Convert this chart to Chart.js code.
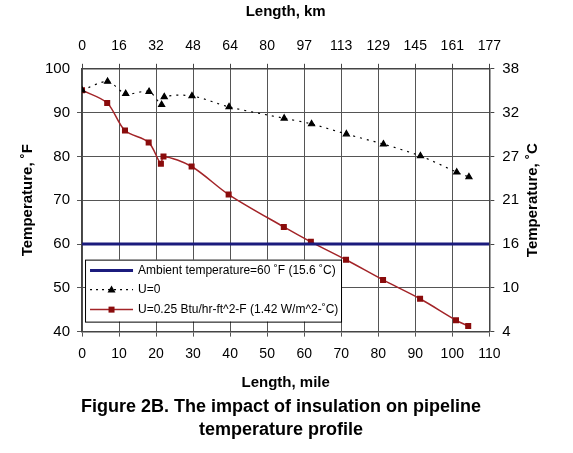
<!DOCTYPE html>
<html>
<head>
<meta charset="utf-8">
<script src="https://cdn.jsdelivr.net/npm/chart.js@4"></script>
<style>
    html, body { margin: 0; padding: 0; background: #fff; }
    #wrap { width: 573px; height: 453px; position: relative; }
</style>
</head>
<body>
<div id="wrap"><canvas id="tempChart"></canvas></div>
<script>
// 数据 (miles, °F)
const ambientMiles = [0, 110];
const ambientTemps = [60, 60];

const u0Miles = [0, 6.9, 11.8, 18.1, 21.5, 22.2, 29.7, 39.7, 54.6, 62.0, 71.4, 81.4, 91.4, 101.2, 104.5];
const u0Temps = [95.1, 97.1, 94.3, 94.8, 91.8, 93.6, 93.8, 91.3, 88.7, 87.4, 85.1, 82.8, 80.1, 76.4, 75.3];

const u25Miles = [0, 6.8, 11.6, 18.0, 21.3, 22.0, 29.6, 39.6, 54.5, 61.8, 71.3, 81.3, 91.3, 101.0, 104.3];
const u25Temps = [95.1, 92.2, 85.9, 83.2, 78.3, 80.0, 77.7, 71.3, 63.9, 60.5, 56.4, 51.8, 47.5, 42.6, 41.3];

// 副坐标轴刻度标签
const kmLabels = ['0', '16', '32', '48', '64', '80', '97', '113', '129', '145', '161', '177'];
const celsiusLabels = { 100: '38', 90: '32', 80: '27', 70: '21', 60: '16', 50: '10', 40: '4' };

const seriesNames = [
    'Ambient temperature=60 ˚F (15.6 ˚C)',
    'U=0',
    'U=0.25 Btu/hr-ft^2-F (1.42 W/m^2-˚C)'
];
const rightTitle = 'Temperature, ˚C';

function toPoints(xs, ys) {
    return xs.map((x, i) => ({ x: x, y: ys[i] }));
}

const FONT = 'Liberation Sans, Arial, sans-serif';
const AMBIENT_COLOR = '#1b1b7d';
const RED_LINE = '#a32428';
const RED_MARK = '#8a0c0c';

// 图表内的图例（Excel 风格方框）
const boxLegend = {
    id: 'boxLegend',
    beforeDatasetsDraw(chart) {
        const ctx = chart.ctx;
        const area = chart.chartArea;
        const left = area.left + 3;
        const top = area.bottom - 72;
        const w = 256, h = 62;
        ctx.save();
        ctx.fillStyle = '#fff';
        ctx.fillRect(left, top, w, h);
        ctx.strokeStyle = '#000';
        ctx.lineWidth = 1;
        ctx.strokeRect(left + 0.5, top + 0.5, w, h);

        ctx.font = '12px ' + FONT;
        ctx.fillStyle = '#000';
        ctx.textBaseline = 'middle';
        const x1 = left + 5, x2 = left + 48, tx = left + 53;
        const rows = [top + 11, top + 30, top + 50];

        // ambient
        ctx.strokeStyle = AMBIENT_COLOR;
        ctx.lineWidth = 3;
        ctx.beginPath(); ctx.moveTo(x1, rows[0]); ctx.lineTo(x2, rows[0]); ctx.stroke();
        ctx.fillText(seriesNames[0], tx, rows[0]);

        // U=0
        ctx.strokeStyle = '#000';
        ctx.lineWidth = 1.2;
        ctx.setLineDash([2, 4]);
        ctx.beginPath(); ctx.moveTo(x1, rows[1]); ctx.lineTo(x2, rows[1]); ctx.stroke();
        ctx.setLineDash([]);
        const mx = (x1 + x2) / 2;
        ctx.beginPath();
        ctx.moveTo(mx, rows[1] - 4); ctx.lineTo(mx + 4, rows[1] + 3); ctx.lineTo(mx - 4, rows[1] + 3);
        ctx.closePath(); ctx.fill();
        ctx.fillText(seriesNames[1], tx, rows[1]);

        // U=0.25
        ctx.strokeStyle = RED_LINE;
        ctx.lineWidth = 1.5;
        ctx.beginPath(); ctx.moveTo(x1, rows[2]); ctx.lineTo(x2, rows[2]); ctx.stroke();
        ctx.fillStyle = RED_MARK;
        ctx.fillRect(mx - 3, rows[2] - 3, 6, 6);
        ctx.fillStyle = '#000';
        ctx.fillText(seriesNames[2], tx, rows[2]);
        ctx.restore();
    }
};

// 右侧标题（自下而上方向，与左侧一致）
const rightAxisTitle = {
    id: 'rightAxisTitle',
    afterDraw(chart) {
        const ctx = chart.ctx;
        const area = chart.chartArea;
        ctx.save();
        ctx.translate(area.right + 44, (area.top + area.bottom) / 2);
        ctx.rotate(-Math.PI / 2);
        ctx.font = 'bold 15px ' + FONT;
        ctx.fillStyle = '#000';
        ctx.textAlign = 'center';
        ctx.textBaseline = 'middle';
        ctx.fillText(rightTitle, 0, 0);
        ctx.restore();
    }
};

const ctx = document.getElementById('tempChart');
new Chart(ctx.getContext('2d'), {
    type: 'line',
    data: {
        datasets: [
            {
                label: seriesNames[0],
                data: toPoints(ambientMiles, ambientTemps),
                borderColor: AMBIENT_COLOR,
                borderWidth: 3,
                pointRadius: 0,
                xAxisID: 'x',
                yAxisID: 'y'
            },
            {
                label: seriesNames[1],
                data: toPoints(u0Miles, u0Temps),
                borderColor: '#000',
                borderWidth: 1.2,
                borderDash: [2, 5],
                tension: 0.3,
                pointStyle: 'triangle',
                pointRadius: 3.5,
                pointBackgroundColor: '#000',
                pointBorderColor: '#000',
                xAxisID: 'x',
                yAxisID: 'y'
            },
            {
                label: seriesNames[2],
                data: toPoints(u25Miles, u25Temps),
                borderColor: RED_LINE,
                borderWidth: 1.5,
                tension: 0.3,
                pointStyle: 'rect',
                pointRadius: 3.2,
                pointBackgroundColor: RED_MARK,
                pointBorderColor: RED_MARK,
                xAxisID: 'x',
                yAxisID: 'y'
            }
        ]
    },
    options: {
        responsive: true,
        maintainAspectRatio: false,
        animation: false,
        layout: { padding: { left: 12, right: 23, top: 3, bottom: 11 } },
        plugins: {
            legend: { display: false },
            tooltip: { enabled: false },
            title: {
                display: true,
                position: 'bottom',
                text: ['Figure 2B. The impact of insulation on pipeline', 'temperature profile'],
                color: '#000',
                font: { family: FONT, size: 18, weight: 'bold', lineHeight: 1.28 },
                padding: { top: 2, bottom: 0 }
            }
        },
        scales: {
            x: {
                type: 'linear',
                position: 'bottom',
                min: 0, max: 110,
                ticks: { stepSize: 10, color: '#000', font: { family: FONT, size: 14 }, padding: 9 },
                grid: { color: '#555', lineWidth: 1, tickLength: 5 },
                border: { color: '#444', width: 1.5 },
                title: {
                    display: true, text: 'Length, mile', color: '#000',
                    font: { family: FONT, size: 15, weight: 'bold' }, padding: { top: 2, bottom: 2.5 }
                }
            },
            x2: {
                type: 'linear',
                position: 'top',
                min: 0, max: 110,
                ticks: {
                    stepSize: 10, color: '#000', font: { family: FONT, size: 14 }, padding: 9,
                    callback: function(value) { return kmLabels[Math.round(value / 10)]; }
                },
                grid: { drawOnChartArea: false, color: '#444', tickLength: 5 },
                border: { color: '#444', width: 1.5 },
                title: {
                    display: true, text: 'Length, km', color: '#000',
                    font: { family: FONT, size: 15, weight: 'bold' }, padding: { top: 0, bottom: 8 }
                }
            },
            y: {
                type: 'linear',
                position: 'left',
                min: 40, max: 100,
                ticks: { stepSize: 10, color: '#000', font: { family: FONT, size: 15 }, padding: 7 },
                grid: {
                    color: function(c) { return c.tick && c.tick.value === 100 ? 'rgba(0,0,0,0)' : '#555'; },
                    lineWidth: 1, tickLength: 5
                },
                border: { color: '#444', width: 1.5 },
                title: {
                    display: true, text: 'Temperature, ˚F', color: '#000',
                    font: { family: FONT, size: 15, weight: 'bold' }, padding: { top: 7, bottom: 1 }
                }
            },
            y2: {
                type: 'linear',
                position: 'right',
                min: 40, max: 100,
                afterFit: function(scale) { scale.width += 23; },
                ticks: {
                    stepSize: 10, color: '#000', font: { family: FONT, size: 15 }, padding: 8,
                    callback: function(value) { return celsiusLabels[value]; }
                },
                grid: { drawOnChartArea: false, color: '#444', tickLength: 5 },
                border: { color: '#444', width: 1.5 }
            }
        }
    },
    plugins: [boxLegend, rightAxisTitle]
});
</script>
</body>
</html>
